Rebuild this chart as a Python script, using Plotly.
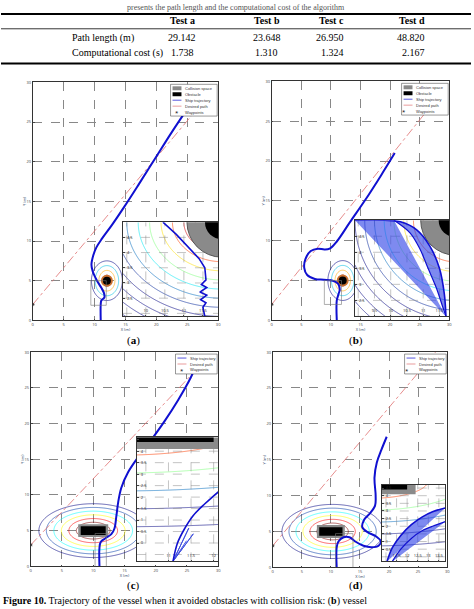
import numpy as np
import plotly.graph_objects as go

W, H = 474, 609

# ---- table data ----
tests = ["Test a", "Test b", "Test c", "Test d"]
row_names = ["Path length (m)", "Computational cost (s)"]
path_length = ["29.142", "23.648", "26.950", "48.820"]
comp_cost = ["1.738", "1.310", "1.324", "2.167"]

# ---- trajectories (X, Y in m) ----
traj_a_x = [11, 11, 11.1, 11.6, 11.5, 11.1, 10.4, 9.7, 9.5, 9.8, 10.3, 11.2, 12.8, 14.8, 17.2, 19.8, 22.4, 25.3]
traj_a_y = [0, 2, 2.5, 2.9, 3.5, 4.1, 5.0, 6.2, 7.0, 8.2, 9.2, 10.3, 12.0, 14.3, 17.2, 20.4, 23.6, 27.0]
traj_b_x = [11, 11, 11.3, 11.5, 11.2, 10.2, 8.8, 7.3, 6.0, 5.5, 5.7, 6.6, 7.8, 8.9, 9.8, 11.0, 13.2, 15.8, 18.4, 20.8]
traj_b_y = [0, 2.5, 3.3, 3.9, 4.6, 5.0, 5.1, 5.2, 5.7, 6.6, 7.7, 8.7, 9.0, 8.9, 9.0, 9.9, 12.3, 15.1, 18.1, 21.0]
traj_c_x = [11, 11, 11.2, 11.9, 12.9, 13.4, 13.7, 14.0, 14.5, 15.6, 17.2, 19.2, 21.4, 23.6, 25.6, 27.2]
traj_c_y = [0, 2.6, 3.4, 3.9, 4.5, 5.3, 7.0, 9.0, 11.0, 13.2, 15.3, 17.6, 20.3, 23.3, 26.4, 29.6]
traj_d_x = [11, 11, 11.3, 12.2, 13.2, 14.2, 15.6, 17.0, 18.2, 18.6, 17.8, 16.3, 15.4, 15.7, 16.8, 17.6, 17.7, 17.5, 17.9, 18.7, 19.6]
traj_d_y = [0, 2.8, 3.6, 4.2, 4.2, 3.6, 3.0, 2.8, 3.0, 3.6, 4.3, 4.9, 5.6, 6.6, 7.6, 8.6, 10.0, 12.5, 14.6, 16.4, 18.2]

# desired path end points
desired_x = {"a": [0, 27], "b": [0, 27], "c": [0, 27], "d": [0, 28]}
desired_y = {"a": [2, 27], "b": [2, 27], "c": [3, 28], "d": [3, 30]}

# ---- inset trajectories ----
ins_a_x = [11.55, 11.5, 11.58, 11.44, 11.6, 11.42, 11.6, 11.46, 11.58, 11.55, 11.4, 11.1, 10.8, 10.45]
ins_a_y = [1.9, 2.2, 2.35, 2.45, 2.6, 2.7, 2.85, 2.95, 3.1, 3.5, 3.8, 4.2, 4.6, 5.0]
ins_b_outer_x = [8.9, 9.8, 10.3, 10.8, 11.2, 11.5, 11.65, 11.7]
ins_b_outer_y = [5.0, 5.0, 4.95, 4.7, 4.2, 3.5, 2.7, 2.0]
ins_b_inner_x = [10.1, 10.6, 10.9, 11.15, 11.4, 11.6, 11.7]
ins_b_inner_y = [5.0, 4.6, 4.1, 3.5, 2.9, 2.3, 2.0]
ins_c_x = [11.1, 11.2, 11.35, 11.55, 11.8, 12.0, 12.15]
ins_c_y = [-0.8, 0.0, 0.6, 1.2, 1.7, 2.05, 2.3]
ins_c_fan_x = [11.1, 11.45, 11.1, 11.55, 11.1, 11.4]
ins_c_fan_y = [-0.8, 0.65, -0.8, 0.4, -0.8, 0.1]
ins_d_outer_x = [11.05, 11.3, 11.7, 12.2, 12.7, 13.2, 13.8]
ins_d_outer_y = [-0.3, 0.6, 1.4, 2.1, 2.6, 2.95, 3.2]
ins_d_inner_x = [11.3, 11.7, 12.2, 12.7, 13.2, 13.8]
ins_d_inner_y = [-0.3, 0.5, 1.2, 1.7, 2.0, 2.3]

# obstacles
circ_obs = (12, 5)
rect_x = [8, 12, 12, 8, 8]
rect_y = [4.4, 4.4, 5.6, 5.6, 4.4]
coll_x = [7.6, 12.4, 12.4, 7.6, 7.6]
coll_y = [4.1, 4.1, 5.9, 5.9, 4.1]
circ_levels = [0.7, 1.3, 1.7, 2.1, 2.5, 2.9]
circ_levels_inset = [0.7, 1.0, 1.3, 1.6, 1.9, 2.2, 2.5, 2.8, 3.1, 3.4, 3.7, 4.0]
ell_levels = [0.9, 1.3, 1.7, 2.1, 2.5, 2.9]
ell_levels_inset = [0.3, 0.9, 1.3, 1.7, 2.1, 2.5, 2.9, 3.3, 3.7]

legend_full = ["Collision space", "Obstacle", "Ship trajectory", "Desired path", "Waypoints"]
legend_short = ["Ship trajectory", "Desired path", "Waypoints"]


def px_x(p):
    return p / W


def px_y(p):
    return 1 - p / H


main_dom = {
    "a": ([32, 219], [80, 320]),
    "b": ([273, 452], [79, 320]),
    "c": ([30, 219], [352, 568]),
    "d": ([274, 450], [352, 569]),
}
inset_dom = {
    "a": ([123, 219], [221, 316], [9.4, 11.9], [1.9, 5.0]),
    "b": ([357, 452], [219, 316], [8.9, 11.8], [2.0, 5.0]),
    "c": ([137, 219], [438, 563], [10.3, 12.1], [-0.8, 4.6]),
    "d": ([384, 448], [486, 563], [10.8, 13.8], [-0.3, 4.7]),
}

fig = go.Figure()
layout = {}
keys = ["a", "b", "c", "d"]
tickf = dict(size=4, color="#444")
BLUE = "#1010d0"
RED = "#e07070"


def circ_field(xr, yr, n=160):
    gx = np.linspace(xr[0], xr[1], n)
    gy = np.linspace(yr[0], yr[1], n)
    X, Y = np.meshgrid(gx, gy)
    return gx, gy, np.hypot(X - circ_obs[0], Y - circ_obs[1])


def ell_field(xr, yr, cx, n=160):
    gx = np.linspace(xr[0], xr[1], n)
    gy = np.linspace(yr[0], yr[1], n)
    X, Y = np.meshgrid(gx, gy)
    return gx, gy, np.hypot((X - cx) / 3.0, (Y - 5) / 1.3)


def contour(gx, gy, z, levels, xa, ya, zmax=None):
    return go.Contour(x=gx, y=gy, z=z, xaxis=xa, yaxis=ya, showscale=False,
                      colorscale="Jet", reversescale=True, zmin=levels[0] - 0.3,
                      zmax=zmax if zmax else levels[-1],
                      contours=dict(coloring="lines", start=levels[0], end=levels[-1],
                                    size=levels[1] - levels[0]),
                      line=dict(width=0.6), hoverinfo="skip", showlegend=False)


def line(x, y, xa, ya, **kw):
    return go.Scatter(x=x, y=y, xaxis=xa, yaxis=ya, mode="lines", showlegend=False,
                      hoverinfo="skip", **kw)


trajs = {"a": (traj_a_x, traj_a_y), "b": (traj_b_x, traj_b_y),
         "c": (traj_c_x, traj_c_y), "d": (traj_d_x, traj_d_y)}
shapes = []
ann = []


def text(x, y, s, font, **kw):
    ann.append(dict(x=px_x(x), y=px_y(y), text=s, showarrow=False, xref="paper", yref="paper",
                    yanchor="middle", font=font, **kw))


def add_legend(right, top, names):
    # hand drawn legend box in pixel coordinates
    rh, w = 6, 47 if len(names) == 5 else 42
    left = right - w
    bottom = top + rh * len(names) + 2
    shapes.append(dict(type="rect", xref="paper", yref="paper", x0=px_x(left), x1=px_x(right),
                       y0=px_y(bottom), y1=px_y(top), fillcolor="white", line=dict(color="#333", width=0.5)))
    for j, nm in enumerate(names):
        yc = top + 1 + rh * j + rh / 2
        sx0, sx1 = left + 2, left + 11
        if nm == "Collision space" or nm == "Obstacle":
            shapes.append(dict(type="rect", xref="paper", yref="paper", x0=px_x(sx0), x1=px_x(sx1),
                               y0=px_y(yc + 2), y1=px_y(yc - 2), line=dict(width=0),
                               fillcolor="#8a8a8a" if nm == "Collision space" else "black"))
        elif nm == "Ship trajectory":
            shapes.append(dict(type="line", xref="paper", yref="paper", x0=px_x(sx0), x1=px_x(sx1),
                               y0=px_y(yc), y1=px_y(yc), line=dict(color=BLUE, width=0.7)))
        elif nm == "Desired path":
            shapes.append(dict(type="line", xref="paper", yref="paper", x0=px_x(sx0), x1=px_x(sx1),
                               y0=px_y(yc), y1=px_y(yc), line=dict(color=RED, width=0.7, dash="dash")))
        else:
            text((sx0 + sx1) / 2, yc + 1, "*", dict(size=6, color="black"))
        text(sx1 + 2, yc, nm, dict(size=4, family="Arial", color="#333"), xanchor="left")


for i, k in enumerate(keys):
    n = i + 1
    xa, ya = ("x", "y") if n == 1 else (f"x{n}", f"y{n}")
    xd, yd = main_dom[k]
    common = dict(range=[0, 30], dtick=5, showgrid=True, gridcolor="#888", griddash="dash",
                  gridwidth=0.6, showline=True, linecolor="#333", linewidth=0.6, mirror=True,
                  zeroline=False, tickfont=tickf, ticks="inside", ticklen=2)
    layout["xaxis" if n == 1 else f"xaxis{n}"] = dict(
        domain=[px_x(xd[0]), px_x(xd[1])], anchor=ya,
        title=dict(text="X (m)", font=dict(size=4), standoff=0), **common)
    layout["yaxis" if n == 1 else f"yaxis{n}"] = dict(
        domain=[px_y(yd[1]), px_y(yd[0])], anchor=xa,
        title=dict(text="Y (m)", font=dict(size=4), standoff=0), **common)

    m = n + 4
    ixd, iyd, ixr, iyr = inset_dom[k]
    icommon = dict(dtick=0.5, showgrid=False, showline=True, linecolor="#333", linewidth=0.6,
                   mirror=True, zeroline=False, tickfont=dict(size=4, color="#222"),
                   ticks="inside", ticklen=2, ticklabelposition="inside")
    layout[f"xaxis{m}"] = dict(domain=[px_x(ixd[0]), px_x(ixd[1])], range=ixr, anchor=f"y{m}", **icommon)
    layout[f"yaxis{m}"] = dict(domain=[px_y(iyd[1]), px_y(iyd[0])], range=iyr, anchor=f"x{m}", **icommon)

    # main panel content
    if k in ("a", "b"):
        gx, gy, z = circ_field([0, 30], [0, 30], 240)
        fig.add_trace(contour(gx, gy, z, circ_levels, xa, ya))
        fig.add_trace(go.Scatter(x=[circ_obs[0]], y=[circ_obs[1]], xaxis=xa, yaxis=ya, mode="markers",
                                 marker=dict(size=10, color="black", line=dict(color="#c87030", width=2)),
                                 showlegend=False, hoverinfo="skip"))
    else:
        cx = 10.0 if k == "c" else 10.3
        gx, gy, z = ell_field([0, 30], [0, 30], cx, 300)
        fig.add_trace(contour(gx, gy, z, ell_levels, xa, ya))
        fig.add_trace(line(coll_x, coll_y, xa, ya, fill="toself", fillcolor="#8a8a8a", line=dict(width=0)))
        fig.add_trace(line(rect_x, rect_y, xa, ya, fill="toself", fillcolor="black", line=dict(width=0)))

    fig.add_trace(line(desired_x[k], desired_y[k], xa, ya, line=dict(color=RED, width=0.8, dash="dashdot")))
    fig.add_trace(go.Scatter(x=desired_x[k][:1], y=desired_y[k][:1], xaxis=xa, yaxis=ya, mode="markers",
                             marker=dict(symbol="asterisk", size=3, line=dict(width=0.6, color="black")),
                             showlegend=False, hoverinfo="skip"))
    tx, ty = trajs[k]
    fig.add_trace(line(tx, ty, xa, ya, line=dict(color=BLUE, width=2, shape="spline")))
    fig.add_shape(type="rect", xref=xa, yref=ya, x0=ixr[0], x1=ixr[1], y0=iyr[0], y1=iyr[1],
                  line=dict(color="#777", width=0.6))

    # inset: opaque white background (heatmap layer sits under contours), grid, content
    ixa, iya = f"x{m}", f"y{m}"
    fig.add_trace(go.Heatmap(x=ixr, y=iyr, z=[[0, 0], [0, 0]], xaxis=ixa, yaxis=iya, showscale=False,
                             colorscale=[[0, "white"], [1, "white"]], hoverinfo="skip"))
    gxs, gys = [], []
    for v in np.arange(np.ceil(ixr[0] * 2) / 2, ixr[1], 0.5):
        gxs += [v, v, None]
        gys += [iyr[0], iyr[1], None]
    for v in np.arange(np.ceil(iyr[0] * 2) / 2, iyr[1], 0.5):
        gxs += [ixr[0], ixr[1], None]
        gys += [v, v, None]
    fig.add_trace(line(gxs, gys, ixa, iya, line=dict(color="#888", width=0.5, dash="dash")))

    if k in ("a", "b"):
        gx, gy, z = circ_field(ixr, iyr, 150)
        fig.add_trace(contour(gx, gy, z, circ_levels_inset, ixa, iya, zmax=3.2))
        fig.add_trace(go.Scatter(x=[circ_obs[0]], y=[circ_obs[1]], xaxis=ixa, yaxis=iya, mode="markers",
                                 marker=dict(size=70, color="#8a8a8a", line=dict(color="#555", width=1)),
                                 showlegend=False, hoverinfo="skip", cliponaxis=True))
        fig.add_trace(go.Scatter(x=[circ_obs[0]], y=[circ_obs[1]], xaxis=ixa, yaxis=iya, mode="markers",
                                 marker=dict(size=34, color="black"),
                                 showlegend=False, hoverinfo="skip", cliponaxis=True))
    else:
        cx = 10.0 if k == "c" else 10.3
        gx, gy, z = ell_field(ixr, iyr, cx, 150)
        fig.add_trace(contour(gx, gy, z, ell_levels_inset, ixa, iya, zmax=3.0))
        fig.add_trace(line(coll_x, coll_y, ixa, iya, fill="toself", fillcolor="#8a8a8a", line=dict(width=0)))
        fig.add_trace(line(rect_x, rect_y, ixa, iya, fill="toself", fillcolor="black", line=dict(width=0)))

    if k == "a":
        fig.add_trace(line(ins_a_x, ins_a_y, ixa, iya, line=dict(color=BLUE, width=1.6)))
    elif k == "b":
        fig.add_trace(line(ins_b_inner_x, ins_b_inner_y, ixa, iya, line=dict(color=BLUE, width=1.2, shape="spline")))
        fig.add_trace(line(ins_b_outer_x, ins_b_outer_y, ixa, iya, line=dict(color=BLUE, width=1.6, shape="spline"),
                           fill="tonext", fillcolor="rgba(40,60,230,0.6)"))
    elif k == "c":
        fig.add_trace(line(ins_c_fan_x, ins_c_fan_y, ixa, iya, line=dict(color="#4050e0", width=1)))
        fig.add_trace(line(ins_c_x, ins_c_y, ixa, iya, line=dict(color=BLUE, width=1.6, shape="spline")))
    else:
        fig.add_trace(line(ins_d_inner_x, ins_d_inner_y, ixa, iya, line=dict(color=BLUE, width=1.2, shape="spline")))
        fig.add_trace(line(ins_d_outer_x, ins_d_outer_y, ixa, iya, line=dict(color=BLUE, width=1.6, shape="spline"),
                           fill="tonext", fillcolor="rgba(40,60,230,0.6)"))

    add_legend(xd[1] - 1, yd[0] + 2, legend_full if k in ("a", "b") else legend_short)

# ---- table ----
col_x = [183, 268, 348, 430]
serif = "Liberation Serif"
tf = dict(size=10, family=serif, color="black")
for cx, t, p, c in zip(col_x, tests, path_length, comp_cost):
    text(cx, 18, f"<b>{t}</b>", tf)
    text(cx, 35, p, tf)
    text(cx, 50, c, tf)
for ry, rn in zip([35, 50], row_names):
    text(70, ry, rn, tf)
text(237, 5, "presents the path length and the computational cost of the algorithm",
     dict(size=8, family=serif, color="#555"))
for lbl, lx, ly in [("(<b>a</b>)", 125, 340), ("(<b>b</b>)", 367, 340), ("(<b>c</b>)", 125, 587),
                    ("(<b>d</b>)", 367, 587)]:
    text(lx, ly, lbl, dict(size=11, family=serif, color="black"))
text(0, 603, "<b>Figure 10.</b> Trajectory of the vessel when it avoided obstacles with collision risk: (<b>b</b>) vessel",
     dict(size=10, family=serif, color="black"), xanchor="left")

shapes += [
    dict(type="line", xref="paper", yref="paper", x0=0, x1=1, y0=px_y(11), y1=px_y(11), line=dict(color="black", width=2)),
    dict(type="line", xref="paper", yref="paper", x0=0, x1=1, y0=px_y(26), y1=px_y(26), line=dict(color="black", width=0.8)),
    dict(type="line", xref="paper", yref="paper", x0=0, x1=1, y0=px_y(61), y1=px_y(61), line=dict(color="black", width=2)),
]
for s in shapes:
    fig.add_shape(**s)

fig.update_layout(width=W, height=H, margin=dict(l=0, r=0, t=0, b=0), paper_bgcolor="white",
                  plot_bgcolor="white", annotations=ann, **layout)
fig.write_html("out.html", config={"displayModeBar": False},
               post_script="document.body.style.margin='0';document.body.style.overflow='hidden';")
